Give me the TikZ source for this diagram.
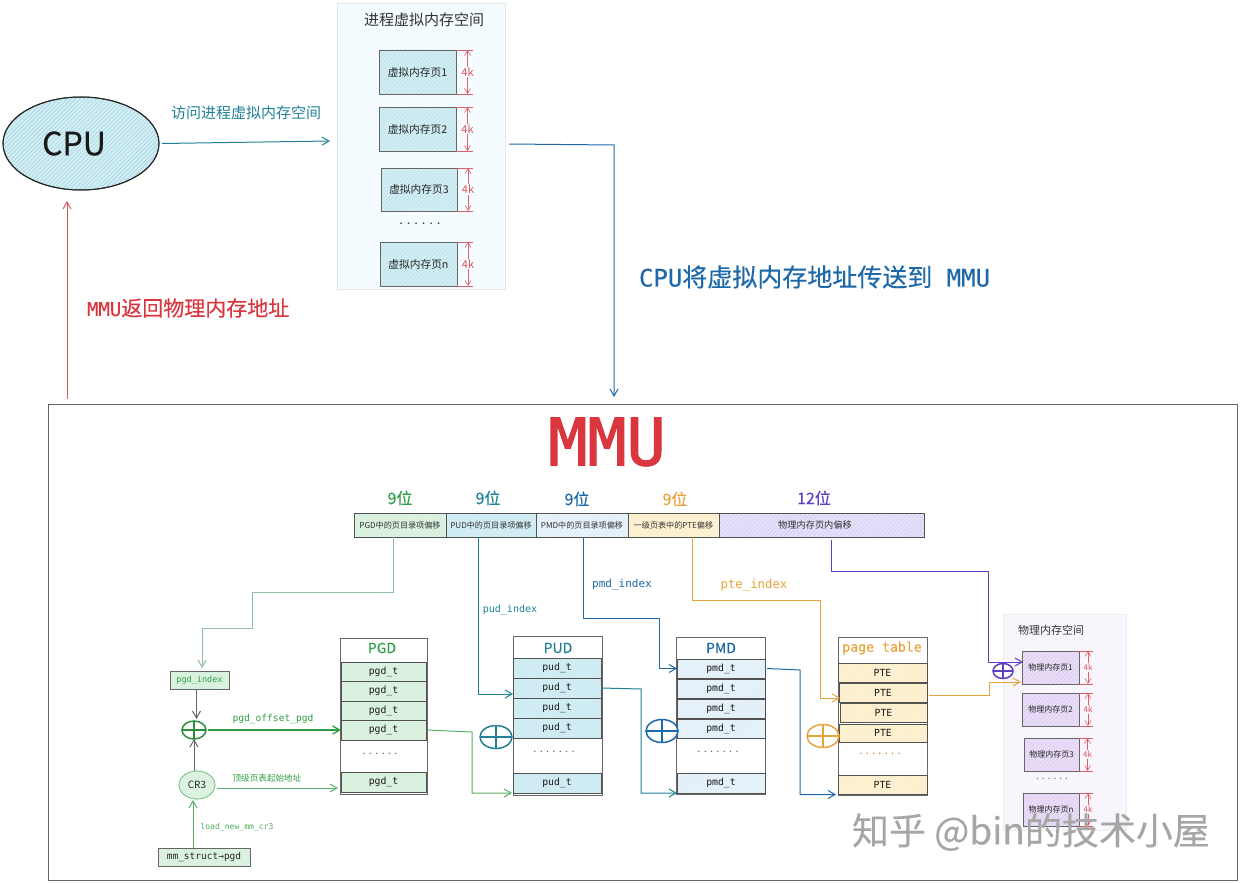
\documentclass[tikz,border=0pt]{standalone}
\usepackage{fontspec}
\setmainfont{Noto Sans CJK SC}
\setmonofont{DejaVu Sans Mono}
\usetikzlibrary{arrows.meta,patterns.meta,shapes.geometric}
\definecolor{cgreen}{HTML}{2F9E44}
\definecolor{cpale}{HTML}{8FBF9F}
\definecolor{cteal}{HTML}{1F8096}
\definecolor{cblue}{HTML}{1C68A8}
\definecolor{corange}{HTML}{E8A33A}
\definecolor{cpurple}{HTML}{5F3DC4}
\definecolor{cred}{HTML}{D9363E}
\definecolor{fcyan}{HTML}{D0EEF5}
\definecolor{fgreen}{HTML}{DDF3E1}
\definecolor{fblue}{HTML}{E6F3FB}
\definecolor{fyellow}{HTML}{FDF2D0}
\definecolor{fpurple}{HTML}{EBDDF8}
\definecolor{flav}{HTML}{E6E1FA}
\definecolor{edge}{HTML}{666666}
\newcommand\fs[1]{\fontsize{#1}{#1}\selectfont}
\newcommand\fb[1]{\addfontfeatures{FakeBold=#1}}
\newcommand\bx[7]{\pgfmathsetmacro\bxw{#5-#3}\pgfmathsetmacro\bxh{#6-#4}%
  \node[#1,anchor=north west,minimum width=\bxw pt,minimum height=\bxh pt] (#2) at (#3,#4) {#7};}
\newcommand\fourk[3]{%
  \node[fourkl,font={\fs{#3}}] (#1k) at ([xshift=#2pt]#1.east) {4k};
  \draw[dimln] (#1.north east) -- ([xshift=5pt]#1k.north |- #1.north east);
  \draw[dimln] (#1.south east) -- ([xshift=5pt]#1k.south |- #1.south east);
  \draw[dimln,-{Straight Barb[length=5pt,width=6pt]}] (#1k.north) -- (#1k.north |- #1.north east);
  \draw[dimln,-{Straight Barb[length=5pt,width=6pt]}] (#1k.south) -- (#1k.south |- #1.south east);}
\tikzset{
  x=1pt,y=-1pt,
  hatch/.style={postaction={pattern={Lines[angle=45,distance=3pt,line width=.4pt]},pattern color=#1},postaction={draw}},
  base/.style={inner sep=0pt,outer sep=0pt,align=center},
  lbl/.style={base},
  opentip/.style={-{Straight Barb[length=7pt,width=8pt]}},
  conn/.style={opentip,line width=1pt},
  vpage/.style={base,draw=edge,line width=.8pt,fill=fcyan,hatch={cteal!28},font={\fs{10.7}},text=black!85},
  ppage/.style={base,draw=edge,line width=.8pt,fill=fpurple,hatch={cpurple!30},font={\fs{8}},text=black!85},
  fourkl/.style={base,text=cred!85,inner ysep=1pt},
  dimln/.style={cred!80,line width=.6pt},
  bit/.style={base,draw=edge!80!black,line width=.9pt,font={\fs{8.1}},text=black!80},
  tablebox/.style={base,draw=edge,line width=.8pt},
  rowc/.style={base,draw=edge!80!black,line width=1pt,font={\ttfamily\fs{9.8}},text=black!90},
  rgreen/.style={rowc,fill=fgreen,hatch={cgreen!22}},
  rcyan/.style={rowc,fill=fcyan,hatch={cteal!22}},
  rblue/.style={rowc,fill=fblue,hatch={cblue!15}},
  ryellow/.style={rowc,fill=fyellow,hatch={corange!25}},
  dotsl/.style={base,font={\fs{11}},text=black!60},
  plus/.style={ellipse,draw,line width=1.5pt,fill=white,inner sep=0pt,outer sep=0pt,
    path picture={\draw[line width=1.1pt,#1] (path picture bounding box.north) -- (path picture bounding box.south)
      (path picture bounding box.west) -- (path picture bounding box.east);}},
}
\begin{document}
\begin{tikzpicture}
\useasboundingbox (0,0) rectangle (1240,883);
% ---------- top part
\node[base,ellipse,draw=black!85,line width=1pt,minimum width=156pt,minimum height=93pt,fill=fcyan,hatch={cteal!42},font={\fs{32}\fb{0.6}},text=black!90] (cpu) at (81,143.5) {\kern-14pt CPU};
\bx{base,fill=blue!30!cyan!4,draw=black!10}{vspace}{337}{3}{505}{289}{}
\node[lbl,font={\fs{15}},text=black!80] (vtitle) at (424,20) {进程虚拟内存空间};
\bx{vpage}{v1}{379}{50}{456}{94}{虚拟内存页1}
\bx{vpage}{v2}{379}{107}{456}{151}{虚拟内存页2}
\bx{vpage}{v3}{381}{168}{457}{211}{虚拟内存页3}
\bx{vpage}{vn}{380}{242}{457}{286}{虚拟内存页n}
\fourk{v1}{11.5}{11}
\fourk{v2}{11.5}{11}
\fourk{v3}{11}{11}
\fourk{vn}{11}{11}
\node[dotsl,font={\fs{13}},text=black!75] (vdots) at (420,224) {. . . . . .};
\node[lbl,font={\fs{15}},text=cteal] (lvisit) at (246,113) {访问进程虚拟内存空间};
\draw[conn,cteal] ([xshift=3pt]cpu.east) -- ([xshift=-7pt,yshift=5pt]vspace.west);
\coordinate (mmutop) at (614,145);
\bx{base,draw=edge,line width=1pt}{mmu}{48}{404}{1237}{880}{}
\draw[conn,cblue] ([xshift=4pt,yshift=2pt]vspace.east) -- (mmutop) -- ([yshift=7pt]mmu.north -| mmutop);
\node[lbl,anchor=west,text=cblue] (lsend) at (639,277) {\ttfamily\fs{24}\fb{0.3}CPU\rmfamily\fs{25}\fb{0.3}将虚拟内存地址传送到\kern14.4pt\ttfamily\fs{24}\fb{0.3}MMU};
\draw[conn,cred!85] ([xshift=-575.5pt,yshift=5pt]mmu.north) -- (67,201);
\node[lbl,anchor=west,text=cred] (lret) at (87,308) {\ttfamily\fs{19}\fb{0.3}MMU\rmfamily\fs{21}\fb{0.3}返回物理内存地址};
\node[lbl,font={\ttfamily\fs{65}\fb{2}},text=cred] (mmut) at (607,442) {MMU};
% ---------- bit row
\bx{bit,fill=fgreen,hatch={cgreen!22}}{bpgd}{354}{513}{446}{537}{PGD中的页目录项偏移}
\bx{bit,fill=fcyan,hatch={cteal!20}}{bpud}{446}{513}{536}{537}{PUD中的页目录项偏移}
\bx{bit,fill=fblue,hatch={cblue!15}}{bpmd}{536}{513}{628}{537}{PMD中的页目录项偏移}
\bx{bit,fill=fyellow,hatch={corange!20}}{bpte}{628}{513}{719}{537}{一级页表中的PTE偏移}
\bx{bit,fill=flav,hatch={cpurple!30},font={\fs{9.2}}}{boff}{719}{513}{924}{537}{\kern-13pt 物理内存页内偏移}
\node[lbl,font={\fs{16}\fb{0.2}},text=cgreen] (n1) at (400,498) {9位};
\node[lbl,font={\fs{16}\fb{0.2}},text=cteal] (n2) at (488,498) {9位};
\node[lbl,font={\fs{16}\fb{0.2}},text=cblue] (n3) at (577,499) {9位};
\node[lbl,font={\fs{16}\fb{0.2}},text=corange] (n4) at (675,499) {9位};
\node[lbl,font={\fs{16}\fb{0.2}},text=cpurple] (n5) at (814,498) {12位};
% ---------- left column
\bx{base,draw=edge,line width=.9pt,fill=fgreen,hatch={cgreen!20},font={\ttfamily\fs{8.5}},text=cgreen}{pgdindex}{170}{671}{229}{689}{pgd\_index}
\node[plus={cgreen!90!black},draw=cgreen!90!black,minimum width=24pt,minimum height=18pt] (p0) at (194,730) {};
\node[base,ellipse,draw=cgreen!60,line width=.7pt,minimum width=36pt,minimum height=28pt,fill=fgreen,hatch={cgreen!15},font={\fs{10}},text=black!85] (cr3) at (197,785) {CR3};
\bx{base,draw=edge,line width=.9pt,fill=fgreen,hatch={cgreen!20},font={\ttfamily\fs{9.5}},text=black!85}{mms}{158}{848}{250}{866}{mm\_struct→pgd}
\node[lbl,font={\ttfamily\fs{8.1}},text=cgreen!85] (lload) at (237,827) {load\_new\_mm\_cr3};
\node[lbl,font={\ttfamily\fs{9.6}},text=cgreen] (loff) at (273,719) {pgd\_offset\_pgd};
\node[lbl,font={\fs{8.6}},text=cgreen] (ltop) at (267,778) {顶级页表起始地址};
% ---------- tables
\bx{tablebox}{tpgd}{340}{638}{427}{794}{}
\node[lbl,font={\fs{14}\fb{0.2}},text=cgreen] (tpgdt) at (382,648) {PGD};
\bx{rgreen}{g1}{341}{662}{426}{681}{pgd\_t}
\bx{rgreen}{g2}{341}{681}{426}{701}{pgd\_t}
\bx{rgreen}{g3}{341}{701}{426}{720}{pgd\_t}
\bx{rgreen}{g4}{341}{720}{426}{740}{pgd\_t}
\node[dotsl] (gd) at (380,754) {. . . . . .};
\bx{rgreen}{gn}{341}{772}{426}{792}{pgd\_t}
\bx{tablebox}{tpud}{513}{636}{602}{795}{}
\node[lbl,font={\fs{14}\fb{0.2}},text=cteal] (tpudt) at (558,648) {PUD};
\bx{rcyan}{u1}{513}{658}{601}{678}{pud\_t}
\bx{rcyan}{u2}{513}{678}{601}{698}{pud\_t}
\bx{rcyan}{u3}{513}{698}{601}{718}{pud\_t}
\bx{rcyan}{u4}{513}{718}{601}{738}{pud\_t}
\node[dotsl] (ud) at (554,752) {. . . . . . .};
\bx{rcyan}{un}{513}{773}{601}{793}{pud\_t}
\bx{tablebox}{tpmd}{676}{637}{765}{794}{}
\node[lbl,font={\fs{14}\fb{0.2}},text=cblue] (tpmdt) at (721,648) {PMD};
\bx{rblue}{m1}{677}{659}{765}{678}{pmd\_t}
\bx{rblue}{m2}{677}{679}{765}{698}{pmd\_t}
\bx{rblue}{m3}{677}{699}{765}{718}{pmd\_t}
\bx{rblue}{m4}{677}{719}{765}{738}{pmd\_t}
\node[dotsl] (md) at (718,752) {. . . . . . .};
\bx{rblue}{mn}{677}{773}{765}{793}{pmd\_t}
\bx{tablebox}{tpte}{838}{637}{927}{795}{}
\node[lbl,font={\ttfamily\fs{13.2}\fb{0.3}},text=corange] (tptet) at (882,648) {page table};
\bx{ryellow}{e1}{838}{663}{927}{682}{PTE}
\bx{ryellow}{e2}{839}{683}{927}{702}{PTE}
\bx{ryellow}{e3}{840}{703}{927}{722}{PTE}
\bx{ryellow}{e4}{839}{724}{927}{742}{PTE}
\node[dotsl,text=corange!80!black] (ed) at (880,754) {. . . . . . .};
\bx{ryellow}{en}{838}{775}{927}{794}{PTE}
\node[plus=cteal,draw=cteal,minimum width=32pt,minimum height=23pt] (p1) at (496,737) {};
\node[plus=cblue,draw=cblue,minimum width=32pt,minimum height=23pt] (p2) at (662,731) {};
\node[plus=corange,draw=corange,minimum width=32pt,minimum height=23pt] (p3) at (823,736) {};
% ---------- physical space
\bx{base,fill=fpurple!30,draw=black!7}{pspace}{1003}{614}{1126}{830}{}
\node[lbl,font={\fs{11}},text=black!80] (ptitle) at (1051,630) {物理内存空间};
\bx{ppage}{f1}{1022}{651}{1079}{684}{物理内存页1}
\bx{ppage}{f2}{1022}{693}{1079}{726}{物理内存页2}
\bx{ppage}{f3}{1024}{738}{1079}{771}{物理内存页3}
\bx{ppage}{fn}{1023}{793}{1079}{826}{物理内存页n}
\fourk{f1}{9}{8}
\fourk{f2}{9}{8}
\fourk{f3}{8.5}{8}
\fourk{fn}{9}{8}
\node[dotsl,font={\fs{10}}] (fd) at (1052,779) {. . . . . .};
\node[plus=cpurple,draw=cpurple,minimum width=20pt,minimum height=15pt] (p4) at (1003,671) {};
% ---------- connectors
\node[lbl,font={\ttfamily\fs{10}},text=cteal] (lpud) at (510,610) {pud\_index};
\node[lbl,font={\ttfamily\fs{11}},text=cblue] (lpmd) at (622,585) {pmd\_index};
\node[lbl,font={\ttfamily\fs{12.3}},text=corange] (lpte) at (754,585) {pte\_index};
\coordinate (a1) at (252,592); \coordinate (a2) at (202,628);
\draw[conn,cpale] ([xshift=-7pt]bpgd.south) |- (a1) |- (a2) -- ([xshift=2.5pt,yshift=3pt]pgdindex.north);
\draw[conn,edge] ([xshift=-3pt]pgdindex.south) -- ([xshift=2.5pt,yshift=2pt]p0.north);
\draw[conn,edge] (cr3.north -| p0.south) -- (p0.south);
\draw[conn,cgreen!80] ([xshift=-11pt]mms.north) -- ([xshift=-4pt,yshift=-1pt]cr3.south);
\draw[conn,cgreen,line width=1.3pt] ([xshift=2pt]p0.east) -- (g4.west);
\draw[conn,cgreen!80] ([xshift=2pt,yshift=-3pt]cr3.east) -- ([xshift=-3pt,yshift=-6pt]gn.west);
\coordinate (b1) at (472,732);
\draw[conn,cgreen!80] (tpgd.east |- g4) -- (b1) |- ([xshift=-1pt,yshift=-10pt]un.west);
\draw[conn,cteal] ([xshift=-13pt]bpud.south) |- ([yshift=-6pt]u2.west);
\coordinate (c1) at (641,689);
\draw[conn,cteal] (u2.east) -- (c1) |- ([yshift=-10pt]mn.west);
\coordinate (d1) at (659,618);
\draw[conn,cblue] ([xshift=1pt]bpmd.south) |- (d1) |- (m1.west);
\coordinate (e0) at (800,670);
\draw[conn,cblue] ([xshift=2pt]m1.east) -- (e0) |- ([xshift=-2pt,yshift=-10pt]en.west);
\coordinate (h1) at (820,600);
\draw[conn,corange] ([xshift=19pt]bpte.south) |- (h1) |- ([xshift=1pt,yshift=-5.5pt]e2.west);
\coordinate (i1) at (989,682);
\draw[conn,corange] ([xshift=2pt,yshift=-2.5pt]e2.east) -| (i1) -- ([xshift=-1pt,yshift=2pt]f1.south west);
\coordinate (j1) at (988,571);
\draw[conn,cpurple] ([xshift=10pt,yshift=-3pt]boff.south) |- (j1) |- ([xshift=1pt,yshift=5.5pt]f1.west);
% ---------- watermark
\node[lbl,anchor=west,font={\fs{37}\fb{0.2}},text=black!35] (wm) at (852,832) {知乎 @bin的技术小屋};
\end{tikzpicture}
\end{document}
